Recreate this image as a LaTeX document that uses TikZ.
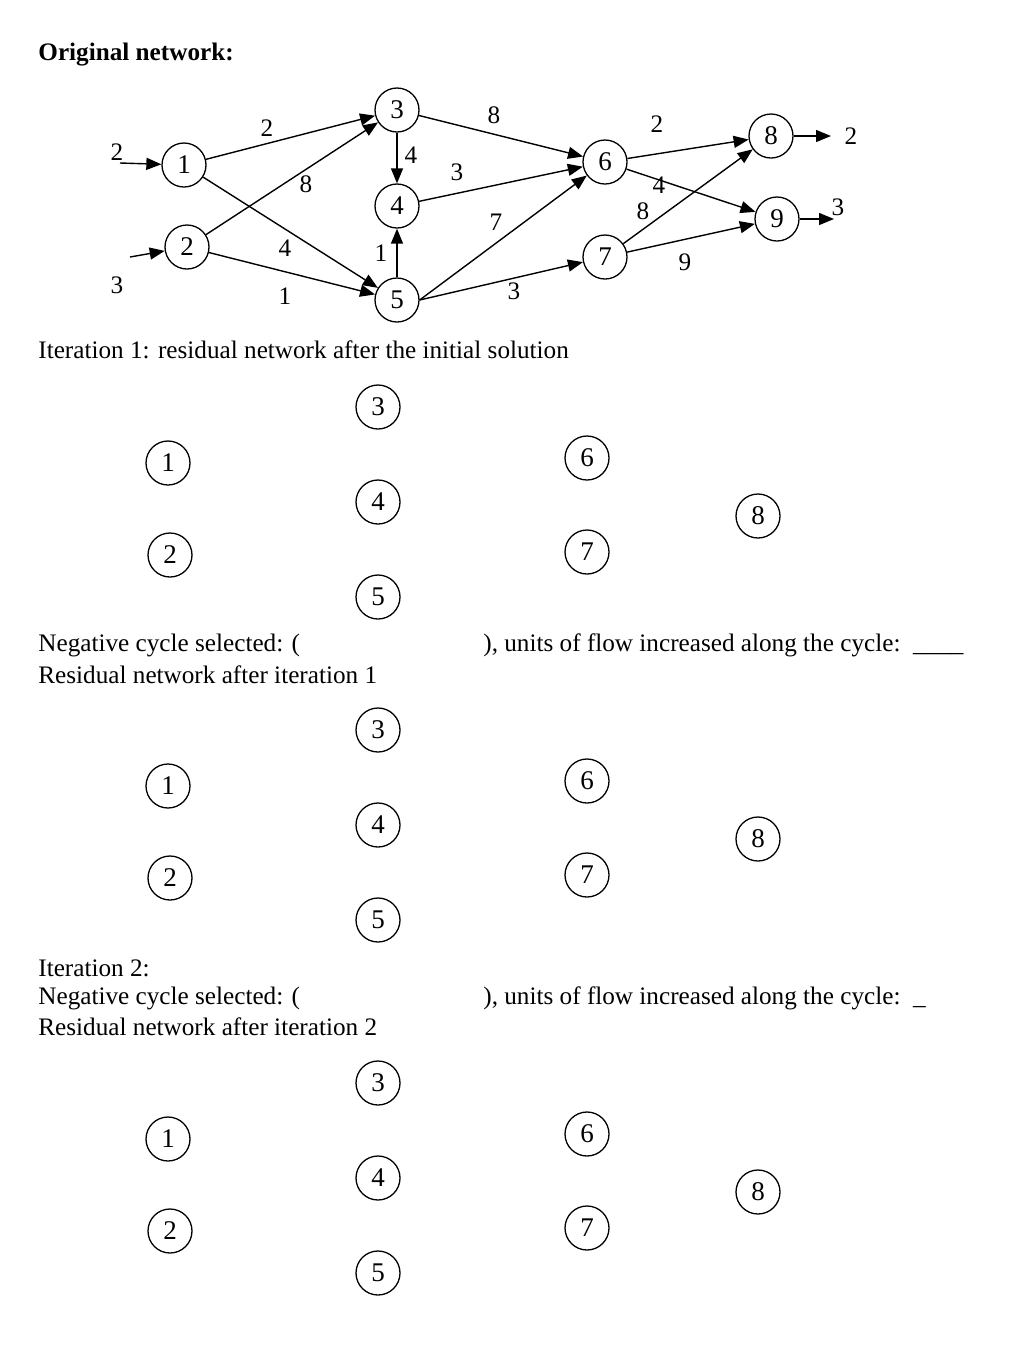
\documentclass[tikz,border=0pt]{standalone}
\usepackage{fontspec}
\setmainfont{Liberation Serif}
\usetikzlibrary{arrows.meta, positioning}

\tikzset{
  vertex/.style={circle, draw, line width=0.65pt, minimum size=22pt, inner sep=0pt, font=\fontsize{13.5}{15}\selectfont},
  arc/.style={line width=0.7pt, -{Triangle[length=7.5pt, width=6pt]}},
  wt/.style={inner sep=0pt, font=\fontsize{12.6}{14}\selectfont},
  txt/.style={anchor=west, inner sep=0pt, font=\fontsize{12.6}{14}\selectfont}
}

\begin{document}
\begin{tikzpicture}[x=0.5pt, y=-0.5pt]
  \useasboundingbox (0,0) rectangle (1014,1366);

  % Original network
  \node[txt, font=\fontsize{12.6}{14}\selectfont\bfseries] (title) at (38,55) {Original network:};

  \node[vertex] (n1) at (184,165) {1};
  \node[vertex] (n2) at (187,247) {2};
  \node[vertex] (n3) at (397,110) {3};
  \node[vertex] (n4) at (397,206) {4};
  \node[vertex] (n5) at (397,300) {5};
  \node[vertex] (n6) at (605,162) {6};
  \node[vertex] (n7) at (605,257) {7};
  \node[vertex] (n8) at (771,136) {8};
  \node[vertex] (n9) at (777,219) {9};

  % Supplies and demands
  \coordinate (s1) at (120,163);
  \coordinate (s2) at (130,257);
  \coordinate (t8) at (831,136);
  \coordinate (t9) at (834,219);
  \draw[arc] (s1) -- (n1);
  \draw[arc] (s2) -- (n2);
  \draw[arc] (n8) -- (t8);
  \draw[arc] (n9) -- (t9);
  \node[wt] (b1) at (117,152) {2};
  \node[wt] (b2) at (117,285) {3};
  \node[wt] (b8) at (851,136) {2};
  \node[wt] (b9) at (838,207) {3};

  % Arcs
  \draw[arc] (n1) -- (n3);
  \draw[arc] (n2) -- (n3);
  \draw[arc] (n1) -- (n5);
  \draw[arc] (n2) -- (n5);
  \draw[arc] (n3) -- (n4);
  \draw[arc] (n5) -- (n4);
  \draw[arc] (n3) -- (n6);
  \draw[arc] (n4) -- (n6);
  \draw[arc] (n5.east) -- (n6);
  \draw[arc] (n5.east) -- (n7);
  \draw[arc] (n6) -- (n8);
  \draw[arc] (n6) -- (n9);
  \draw[arc] (n7) -- (n8);
  \draw[arc] (n7) -- (n9);

  % Arc costs
  \node[wt] (w13) at (267,128) {2};
  \node[wt] (w23) at (306,184) {8};
  \node[wt] (w15) at (285,248) {4};
  \node[wt] (w25) at (285,296) {1};
  \node[wt] (w34) at (411,155) {4};
  \node[wt] (w54) at (381,253) {1};
  \node[wt] (w36) at (494,115) {8};
  \node[wt] (w46) at (457,172) {3};
  \node[wt] (w56) at (496,222) {7};
  \node[wt] (w57) at (514,291) {3};
  \node[wt] (w68) at (657,124) {2};
  \node[wt] (w69) at (659,185) {4};
  \node[wt] (w78) at (643,211) {8};
  \node[wt] (w79) at (685,262) {9};

  % Worksheet text
  \node[txt] (it1) at (38,350) {Iteration 1: residual network after the initial solution};
  \node[txt] (neg1) at (38,645) {Negative cycle selected: (};
  \node[txt] (units1) at (483,645) {), units of flow increased along the cycle:\ \ \_\_\_\_};
  \node[txt] (res1) at (38,675) {Residual network after iteration 1};
  \node[txt] (it2) at (38,968) {Iteration 2:};
  \node[txt] (neg2) at (38,998) {Negative cycle selected: (};
  \node[txt] (units2) at (483,998) {), units of flow increased along the cycle:\ \ \_};
  \node[txt] (res2) at (38,1027) {Residual network after iteration 2};

  % Empty residual networks
  \foreach \k/\dy in {1/0, 2/323, 3/676} {
    \node[vertex] (r\k-3) at (378,407+\dy) {3};
    \node[vertex] (r\k-1) at (168,463+\dy) {1};
    \node[vertex] (r\k-6) at (587,458+\dy) {6};
    \node[vertex] (r\k-4) at (378,502+\dy) {4};
    \node[vertex] (r\k-8) at (758,516+\dy) {8};
    \node[vertex] (r\k-2) at (170,555+\dy) {2};
    \node[vertex] (r\k-7) at (587,552+\dy) {7};
    \node[vertex] (r\k-5) at (378,597+\dy) {5};
  }
\end{tikzpicture}
\end{document}
